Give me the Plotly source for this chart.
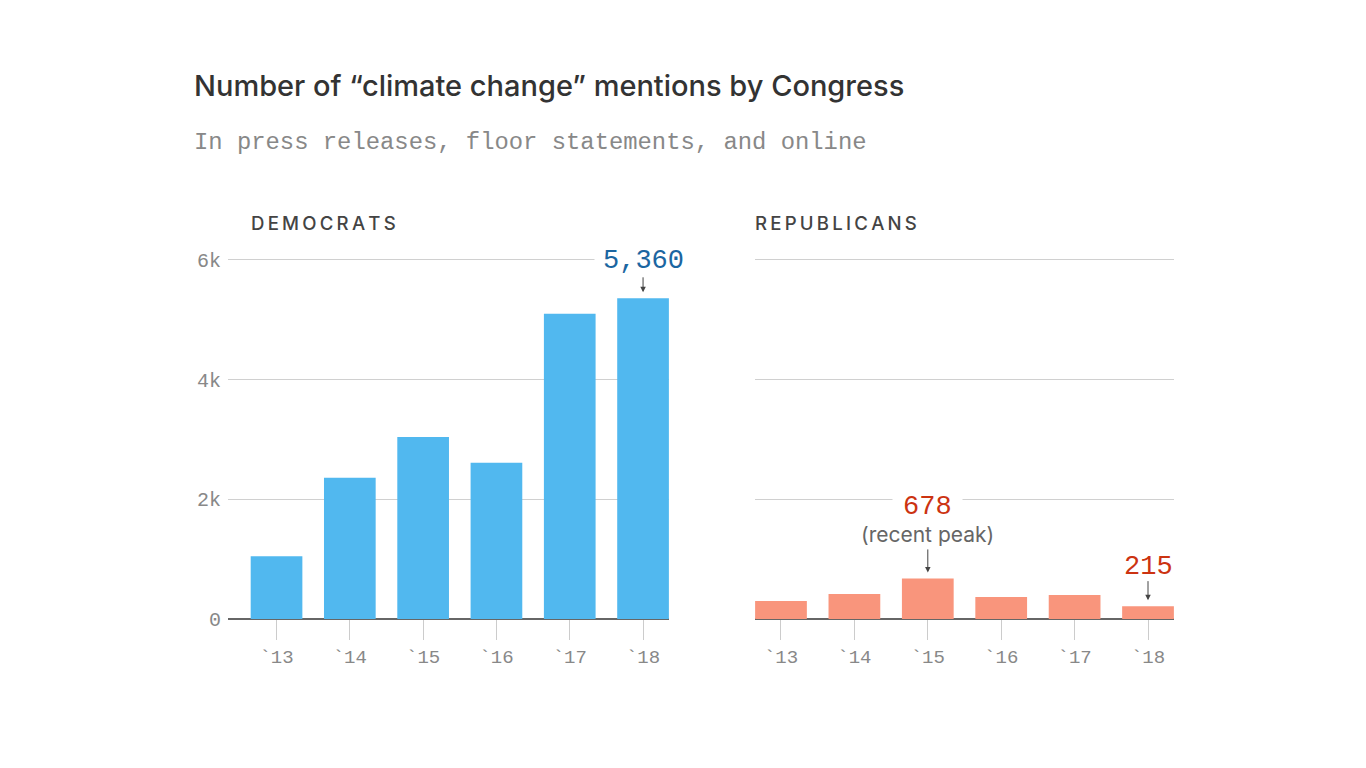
import plotly.graph_objects as go

years = ["`13", "`14", "`15", "`16", "`17", "`18"]
dem_values = [1050, 2360, 3040, 2610, 5100, 5360]
rep_values = [300, 418, 678, 368, 400, 215]
y_ticks = [0, 2000, 4000, 6000]
y_tick_labels = ["0", "2k", "4k", "6k"]

title_text = "Number of “climate change” mentions by Congress"
subtitle_text = "In press releases, floor statements, and online"

DEM_COLOR = "#51b8ef"
REP_COLOR = "#f9957c"
BLUE_TXT = "#1b66a1"
RED_TXT = "#cc3311"
MONO = "Liberation Mono, DejaVu Sans Mono, monospace"
SANS = "Inter, Lato, Open Sans, sans-serif"

W, H = 1366, 768

def px_x(p):
    return p / W

def px_y(p):
    return 1 - p / H

fig = go.Figure()
fig.add_trace(go.Bar(x=years, y=dem_values, marker=dict(color=DEM_COLOR, line=dict(width=0)),
                     width=0.705, xaxis="x", yaxis="y", hoverinfo="x+y"))
fig.add_trace(go.Bar(x=years, y=rep_values, marker=dict(color=REP_COLOR, line=dict(width=0)),
                     width=0.705, xaxis="x2", yaxis="y2", hoverinfo="x+y"))

ymax = 6050
y_dom = [px_y(619), px_y(619 - ymax * (619 - 260) / 6000)]

xcommon = dict(type="category", categoryorder="array", categoryarray=years,
               showgrid=False, zeroline=False, showline=False, automargin=False,
               ticks="outside", ticklen=20, tickcolor="#cccccc", tickwidth=1,
               tickfont=dict(family=MONO, size=19, color="#888888"))
ycommon = dict(range=[0, ymax], tickvals=y_ticks, ticktext=y_tick_labels,
               showgrid=True, gridcolor="#d0d0d0", gridwidth=1, automargin=False,
               zeroline=True, zerolinecolor="#666666", zerolinewidth=1.5,
               showline=False, ticks="", domain=y_dom,
               tickfont=dict(family=MONO, size=20, color="#888888"))

fig.update_layout(
    template="none",
    width=W, height=H, autosize=False,
    margin=dict(l=0, r=0, t=0, b=0, pad=0),
    paper_bgcolor="white", plot_bgcolor="white",
    showlegend=False, bargap=0.29,
    xaxis=dict(domain=[px_x(228), px_x(669)], range=[-0.662, 5.354], anchor="y", **xcommon),
    yaxis=dict(anchor="x", showticklabels=True, ticklabelstandoff=6, **ycommon),
    xaxis2=dict(domain=[px_x(755), px_x(1174)], range=[-0.354, 5.354], anchor="y2", **xcommon),
    yaxis2=dict(anchor="x2", showticklabels=False, **ycommon),
)

ann = []
ann.append(dict(text=title_text, xref="paper", yref="paper", x=px_x(192), y=px_y(85),
                xanchor="left", yanchor="middle", showarrow=False,
                font=dict(family=SANS, size=29, color="#333333", weight=500)))
ann.append(dict(text=subtitle_text, xref="paper", yref="paper", x=px_x(192), y=px_y(143),
                xanchor="left", yanchor="middle", showarrow=False,
                font=dict(family=MONO, size=23.85, color="#888888")))
thin = "\u2009"
ann.append(dict(text=thin.join("DEMOCRATS"), xref="paper", yref="paper", x=px_x(249), y=px_y(223),
                xanchor="left", yanchor="middle", showarrow=False,
                font=dict(family=SANS, size=18.6, color="#444444", weight=500)))
ann.append(dict(text=thin.join("REPUBLICANS"), xref="paper", yref="paper", x=px_x(753), y=px_y(223),
                xanchor="left", yanchor="middle", showarrow=False,
                font=dict(family=SANS, size=18.6, color="#444444", weight=500)))

# value labels
ann.append(dict(text=f"{dem_values[5]:,}", xref="x", yref="paper", x=years[5], y=px_y(261),
                xanchor="center", yanchor="middle", showarrow=False, bgcolor="white", borderpad=8,
                font=dict(family=MONO, size=27, color=BLUE_TXT)))
ann.append(dict(text=" ", xref="x", yref="y", x=years[5], y=dem_values[5], ax=0, ay=-22,
                showarrow=True, arrowhead=2, arrowsize=1.1, arrowwidth=1, arrowcolor="#444444",
                standoff=6, font=dict(size=1), borderpad=0))

ann.append(dict(text=f"{rep_values[2]:,}", xref="x2", yref="paper", x=years[2], y=px_y(507),
                xanchor="center", yanchor="middle", showarrow=False, bgcolor="white", borderpad=10,
                font=dict(family=MONO, size=27, color=RED_TXT)))
ann.append(dict(text="(recent peak)", xref="x2", yref="paper", x=years[2], y=px_y(534),
                xanchor="center", yanchor="middle", showarrow=False,
                font=dict(family=SANS, size=21, color="#666666")))
ann.append(dict(text=" ", xref="x2", yref="y2", x=years[2], y=rep_values[2], ax=0, ay=-30,
                showarrow=True, arrowhead=2, arrowsize=1.1, arrowwidth=1, arrowcolor="#444444",
                standoff=6, font=dict(size=1), borderpad=0))

ann.append(dict(text=f"{rep_values[5]:,}", xref="x2", yref="paper", x=years[5], y=px_y(567),
                xanchor="center", yanchor="middle", showarrow=False,
                font=dict(family=MONO, size=27, color=RED_TXT)))
ann.append(dict(text=" ", xref="x2", yref="y2", x=years[5], y=rep_values[5], ax=0, ay=-26,
                showarrow=True, arrowhead=2, arrowsize=1.1, arrowwidth=1, arrowcolor="#444444",
                standoff=6, font=dict(size=1), borderpad=0))

fig.update_layout(annotations=ann)
fig.write_html("out.html")
